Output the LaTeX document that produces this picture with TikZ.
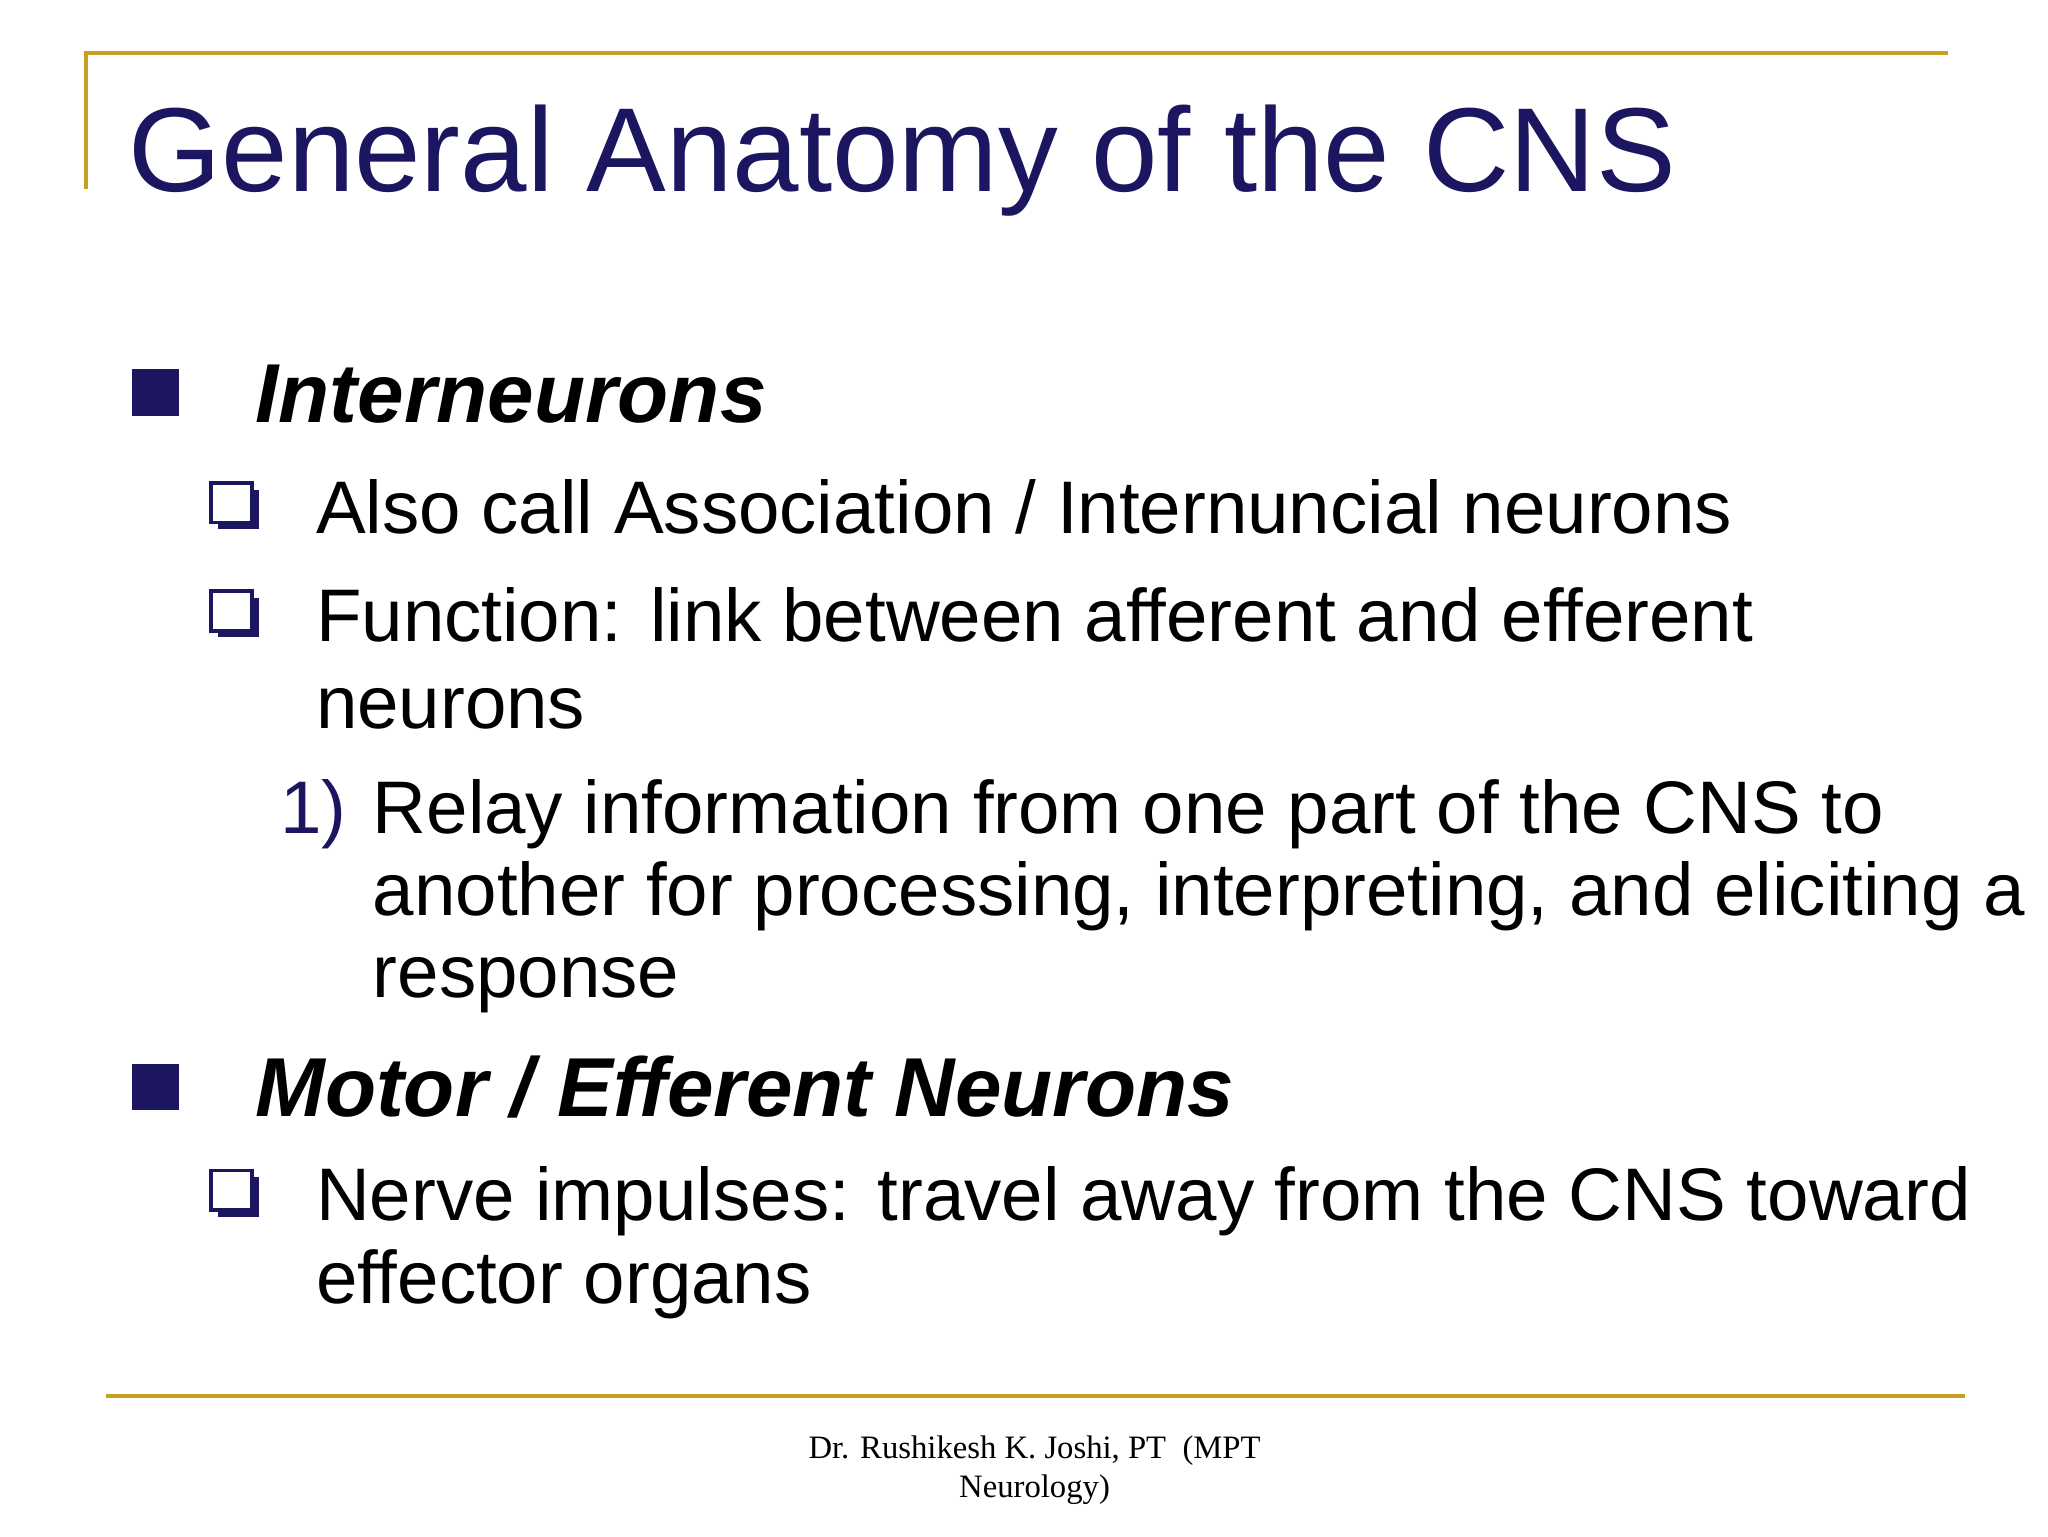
\documentclass[tikz,border=0pt]{standalone}
\usepackage{fontspec}
\setmainfont{Liberation Sans}
\newfontfamily\footfont{Liberation Serif}
\definecolor{gold}{HTML}{C9A020}
\definecolor{navy}{HTML}{1C1660}
\begin{document}
\begin{tikzpicture}[x=0.013196cm,y=-0.013196cm,
  txt/.style={anchor=base west,inner sep=0pt,text=black},
  body/.style={txt,font=\fontsize{21.2}{25}\selectfont},
  head/.style={txt,font=\fontsize{23.8}{28}\selectfont\bfseries\itshape},
  fullsq/.style={fill=navy,draw=none},
  goldline/.style={draw=gold,line width=1.1pt}]
\useasboundingbox[fill=white] (0,0) rectangle (1552,1164);
\coordinate (tl) at (65,143); \coordinate (tc) at (65,40); \coordinate (tr) at (1476,40);
\draw[goldline] (tl) -- (tc) -- (tr);
\coordinate (bl) at (80,1058); \coordinate (br) at (1489,1058);
\draw[goldline] (bl) -- (br);
\node[txt,text=navy,font=\fontsize{34}{40}\selectfont] (title) at (97,145) {General Anatomy of the CNS};
% bullet 1
\fill[fullsq] (100,280) rectangle (136,315);
\node[head] (h1) at (193,320) {Interneurons};
\newcommand\hollowsq[2]{%
  \fill[navy] (#1+5,#2+5) rectangle (#1+36,#2+35);
  \fill[white,draw=navy,line width=1pt] (#1,#2) rectangle (#1+31,#2+30);}
\hollowsq{160}{366}
\node[body] (s1) at (239,404) {Also call Association / Internuncial neurons};
\hollowsq{160}{448}
\node[body] (s2) at (239,486) {Function: link between afferent and efferent};
\node[body] (s2b) at (239,552) {neurons};
\node[body,text=navy] (n1) at (212,632) {1)};
\node[body] (r1) at (282,632) {Relay information from one part of the CNS to};
\node[body] (r2) at (282,694) {another for processing, interpreting, and eliciting a};
\node[body] (r3) at (282,756) {response};
% bullet 2
\fill[fullsq] (100,806) rectangle (136,841);
\node[head] (h2) at (193,846) {Motor / Efferent Neurons};
\hollowsq{160}{887}
\node[body] (m1) at (239,925) {Nerve impulses: travel away from the CNS toward};
\node[body] (m2) at (239,988) {effector organs};
\node[anchor=base,inner sep=0pt,font=\footfont\fontsize{9.3}{11}\selectfont] (f1) at (784,1105) {Dr. Rushikesh K. Joshi, PT\ \ (MPT};
\node[anchor=base,inner sep=0pt,font=\footfont\fontsize{9.3}{11}\selectfont] (f2) at (784,1135) {Neurology)};
\end{tikzpicture}
\end{document}
